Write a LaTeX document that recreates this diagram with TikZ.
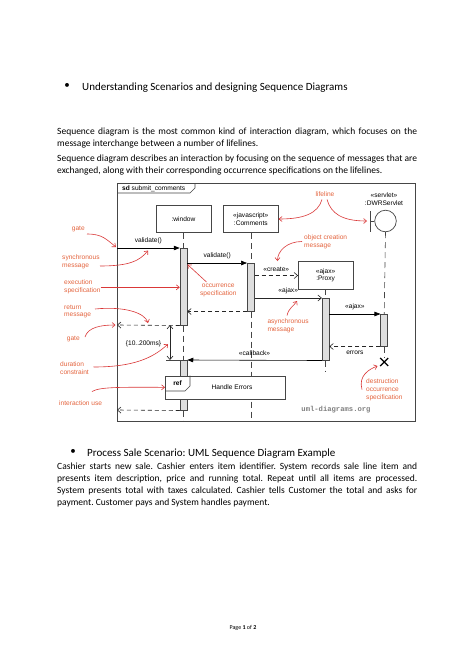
\documentclass[tikz,border=0pt]{standalone}
\usepackage{fontspec}
\setmainfont{Carlito}[WordSpace={1,1.5,0}]
\newfontfamily\arialf{Liberation Sans}
\newfontfamily\monof{Liberation Mono}
\usetikzlibrary{arrows.meta,calc}
\definecolor{annred}{RGB}{218,56,56}
\definecolor{anntext}{RGB}{228,100,62}
\definecolor{linegray}{RGB}{70,70,70}
\hyphenpenalty=10000
\exhyphenpenalty=10000
\frenchspacing
\begin{document}
\begin{tikzpicture}[x=1pt,y=-1pt,
  diag/.style={font=\arialf\fontsize{6.6}{7.6}\selectfont, inner sep=0pt},
  lifebox/.style={draw=linegray, line width=0.6pt, minimum width=55pt, minimum height=27.5pt, align=center, diag, fill=white},
  actbar/.style={draw=linegray, fill=black!13, line width=0.5pt, minimum width=7pt, inner sep=0pt, anchor=north},
  lifeln/.style={draw=linegray, dash pattern=on 6pt off 4pt, line width=0.6pt},
  syncmsg/.style={draw=black, line width=0.6pt, -{Triangle[length=6pt,width=4.5pt]}},
  asyncmsg/.style={draw=black!85, line width=0.6pt, -{Straight Barb[length=3.5pt,width=6pt]}},
  retmsg/.style={asyncmsg, dash pattern=on 4pt off 3pt},
  ann/.style={font=\arialf\fontsize{6.6}{7.7}\selectfont, text=anntext, align=left, inner sep=0pt},
  annarrow/.style={draw=annred, line width=0.6pt, -{Straight Barb[length=3pt,width=5pt]}},
  doctext/.style={font=\fontsize{9.5}{12}\selectfont, text width=360pt, align=justify, inner sep=0pt, anchor=north west},
  headtext/.style={font=\fontsize{11}{13}\selectfont, anchor=base west, inner sep=0pt},
  bul/.style={font=\fontsize{11}{13}\selectfont, inner sep=0pt},
]
\path[use as bounding box, fill=white] (0,0) rectangle (474,670);

% ---------- document text ----------
\node[bul] (b1) at (67,86) {\textbullet};
\node[headtext] (h1) at (82,90) {Understanding Scenarios and designing Sequence Diagrams};
\node[doctext] (p1) at (57,128) {Sequence diagram is the most common kind of interaction diagram, which focuses on the message interchange between a number of lifelines.};
\node[doctext] (p2) at (57,155) {Sequence diagram describes an interaction by focusing on the sequence of messages that are exchanged, along with their corresponding occurrence specifications on the lifelines.};

\node[bul] (b2) at (73,452) {\textbullet};
\node[headtext] (h2) at (87,456) {Process Sale Scenario: UML Sequence Diagram Example};
\node[doctext] (p3) at (57,463) {Cashier starts new sale. Cashier enters item identifier. System records sale line item and presents item description, price and running total. Repeat until all items are processed. System presents total with taxes calculated. Cashier tells Customer the total and asks for payment. Customer pays and System handles payment.};

\node[font=\fontsize{6}{7}\selectfont, inner sep=0pt] (foot) at (243,628) {Page \textbf{1} of \textbf{2}};

% ---------- frame ----------
\node[draw=linegray, line width=0.7pt, minimum width=298pt, minimum height=238pt, anchor=north west, inner sep=0pt] (frame) at (117,183) {};
\draw[draw=linegray, line width=0.6pt] (117,193) -- (190,193) -- (195,188) -- (195,183);
\node[diag, anchor=west] (sd) at (122,188.3) {\textbf{sd} submit\_comments};

% ---------- lifeline heads ----------
\node[lifebox] (win) at (183.5,219) {:window};
\node[lifebox] (com) at (250.8,219) {«javascript»\\:Comments};
\node[lifebox, minimum width=54.5pt, minimum height=27.3pt] (prx) at (325.6,275.3) {«ajax»\\:Proxy};
\node[diag, align=center] (dwrl) at (384,199) {«servlet»\\:DWRServlet};
\node[draw=linegray, line width=0.7pt, circle, minimum size=21.6pt, inner sep=0pt] (dwr) at (385.5,221) {};
\coordinate (bndtop) at (370.5,211);
\coordinate (bndbot) at (370.5,232);
\coordinate (bndmid) at (370.5,221);
\draw[draw=linegray, line width=0.7pt] (bndtop) -- (bndbot);
\draw[draw=linegray, line width=0.7pt] (bndmid) -- (dwr.west);

% ---------- activation bars ----------
\node[actbar, minimum height=77pt] (wb1) at (183.5,248) {};
\node[actbar, minimum height=50pt] (wb2) at (183.5,360) {};
\node[actbar, minimum height=48pt] (cb) at (250.8,263) {};
\node[actbar, minimum height=62pt] (pb) at (325.6,298) {};
\node[actbar, minimum height=32pt] (db) at (384.2,314) {};

% ---------- lifelines ----------
\coordinate (wend) at (183.5,421);
\coordinate (cend) at (250.8,421);
\coordinate (pend) at (325.6,372);
\coordinate (xx) at (384.2,362);
\draw[lifeln] (win.south) -- (wb1.north);
\draw[lifeln] (wb1.south) -- (wb2.north);
\draw[lifeln] (wb2.south) -- (wend);
\draw[lifeln] (com.south) -- (cb.north);
\draw[lifeln] (cb.south) -- (cend);
\draw[lifeln] (prx.south) -- (pb.north);
\draw[lifeln] (pb.south) -- (pend);
\draw[lifeln] (dwr.south) -- (db.north);
\draw[lifeln] (db.south) -- ($(xx)+(0,-4)$);

% ---------- messages ----------
\coordinate (gate1) at (117,248);
\draw[syncmsg] (gate1) -- (wb1.north west) node[diag, midway, above=3.5pt] (m1) {validate()};
\draw[syncmsg] (wb1.east |- cb.north) -- (cb.north west) node[diag, midway, above=3.5pt] (m2) {validate()};
\draw[retmsg] (cb.east |- 0,275.5) -- (prx.west |- 0,275.5) node[diag, midway, above=4pt] (m3) {«create»};
\draw[asyncmsg] (cb.east |- pb.north) -- (pb.north west) node[diag, midway, above=3.5pt] (m4) {«ajax»};
\draw[syncmsg] (pb.east |- db.north) -- (db.north west) node[diag, midway, above=3.5pt] (m5) {«ajax»};
\draw[retmsg] (db.south west) -- (pb.east |- db.south) node[diag, midway, below=4pt] (m6) {errors};
\draw[retmsg] (cb.south west) -- (wb1.east |- cb.south);
\coordinate (gate2) at (117,325);
\draw[retmsg] (wb1.south west) -- (gate2);
\draw[syncmsg] (pb.south west) -- (wb2.north east) node[diag, midway, above=4pt] (m7) {«callback»};
\coordinate (gate3) at (117,410);
\draw[retmsg] (wb2.south west) -- (gate3);

% destruction
\draw[black, line width=1.3pt] ($(xx)+(-4,-4)$) -- ($(xx)+(4,4)$) ($(xx)+(-4,4)$) -- ($(xx)+(4,-4)$);

% duration constraint
\coordinate (dtop) at (170,325);
\coordinate (dbot) at (170,360);
\draw[draw=linegray, line width=0.6pt] (166,360) -- (wb2.north west);
\draw[draw=black!85, line width=0.6pt, {Straight Barb[length=3.5pt,width=6pt]}-{Straight Barb[length=3.5pt,width=6pt]}] (dtop) -- (dbot);
\node[diag] (dur) at (143.5,343.3) {\{10..200ms\}};

% ---------- interaction use ----------
\node[draw=linegray, line width=0.6pt, fill=white, minimum width=120pt, minimum height=23.5pt, anchor=north west, inner sep=0pt] (ref) at (165,375.7) {};
\draw[draw=linegray, line width=0.6pt] (165,391) -- (185,391) -- (190,386) -- (190,375.7);
\node[diag, font=\arialf\bfseries\fontsize{6.6}{7.6}\selectfont] (reflbl) at (177.5,383.3) {ref};
\node[diag] (refname) at (232,387.5) {Handle Errors};

\node[font=\monof\bfseries\fontsize{7.2}{8}\selectfont, text=black!50, inner sep=0pt] (wm) at (336,410) {uml-diagrams.org};

% ---------- annotations ----------
\node[ann, align=center] (aLife) at (325,194) {lifeline};
\draw[annarrow] (322,199.5) .. controls +(-4,14) and +(25,0) .. (com.east);
\draw[annarrow] (327,199.5) .. controls +(4,14) and +(-25,0) .. (367,221);

\node[ann, anchor=west] (aCreate) at (304,242) {object creation\\message};
\coordinate (tCreate) at (277.5,261);
\draw[annarrow] (302,241.5) .. controls +(-15,0) and +(0,-10) .. (tCreate);

\node[ann, align=center] (aGate1) at (78.3,229) {gate};
\coordinate (tGate1) at (116,247);
\draw[annarrow] (87,234) .. controls +(15,0) and +(-10,-8) .. (tGate1);

\node[ann, anchor=west] (aSync) at (62,261.5) {synchronous\\message};
\coordinate (tSync) at (148,250.5);
\draw[annarrow] (100,266) .. controls +(30,0) and +(-8,10) .. (tSync);

\node[ann, anchor=west] (aExec) at (64,286.5) {execution\\specification};
\draw[annarrow] (aExec.east |- 0,287.3) -- (wb1.west |- 0,287.3);

\node[ann, align=center] (aOcc) at (218.3,290.5) {occurrence\\specification};
\coordinate (tOcc) at (187.5,264.5);
\draw[annarrow] (206.5,282) -- (tOcc);

\node[ann, anchor=west] (aRet) at (64,311.5) {return\\message};
\coordinate (tRet) at (148,323);
\draw[annarrow] (95,309) .. controls +(30,-3) and +(-3,-10) .. (tRet);

\node[ann, align=center] (aGate2) at (73.3,339.3) {gate};
\coordinate (tGate2) at (115.5,325);
\draw[annarrow] (85,337) .. controls +(3,-10) and +(-14,0) .. (tGate2);

\node[ann, anchor=west] (aDur) at (60,368) {duration\\constraint};
\coordinate (tDur) at (168,344);
\draw[annarrow] (93.5,367) .. controls +(40,0) and +(-15,14) .. (tDur);

\node[ann, anchor=west] (aIU) at (59,402.7) {interaction use};
\draw[annarrow] (92,391.5) .. controls +(8,-5) and +(-40,0) .. (ref.west |- 0,387.3);

\node[ann, anchor=west] (aAsync) at (267.3,325.5) {asynchronous\\message};
\coordinate (tAsync) at (297,301);
\draw[annarrow] (287,315.5) .. controls +(2,-8) and +(-4,6) .. (tAsync);

\node[ann, anchor=west] (aDest) at (366,389.6) {destruction\\occurrence\\specification};
\coordinate (tDest) at (377.5,366);
\draw[annarrow] (362,389.5) .. controls +(-4,-14) and +(-8,3) .. (tDest);
\end{tikzpicture}
\end{document}
